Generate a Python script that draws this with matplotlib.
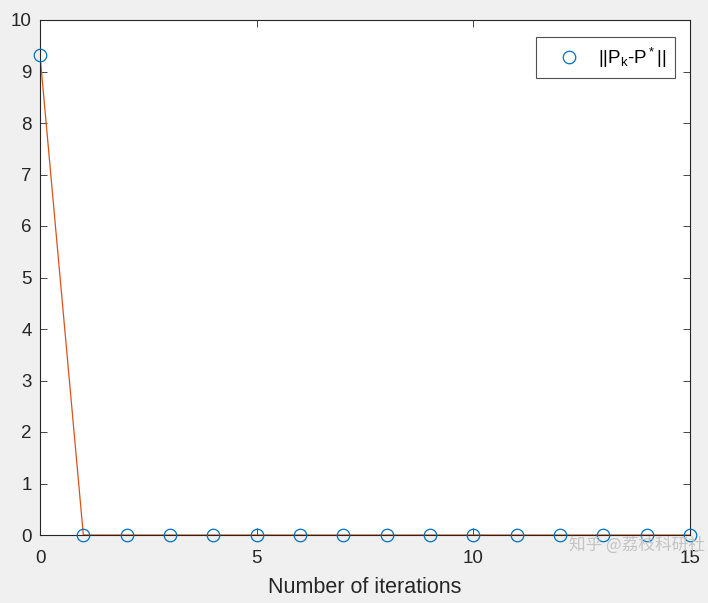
import matplotlib.pyplot as plt
import numpy as np

plt.rcParams['font.family'] = ['Liberation Sans', 'DejaVu Sans']
plt.rcParams['mathtext.fontset'] = 'custom'
plt.rcParams['mathtext.rm'] = 'Liberation Sans'
plt.rcParams['mathtext.it'] = 'Liberation Sans'

iterations = np.arange(0, 16)
error_norm = [9.32, 0, 0, 0, 0, 0, 0, 0, 0, 0, 0, 0, 0, 0, 0, 0]

fig = plt.figure(figsize=(7.08, 6.03), dpi=100, facecolor='#f0f0f0')
ax = fig.add_axes([40 / 708, 1 - 535 / 603, 650 / 708, 515 / 603])
ax.set_facecolor('white')

ax.plot(iterations, error_norm, 'o', markerfacecolor='none', markeredgecolor='#0072bd',
        markersize=9, markeredgewidth=0.9, label=r'$||\mathrm{P}_\mathrm{k}$-$\mathrm{P}^*||$',
        zorder=3, clip_on=False)
ax.plot(iterations, error_norm, '-', color='#d95319', linewidth=0.9, zorder=2)

ax.set_xlim(0, 15)
ax.set_ylim(0, 10)
ax.set_xticks([0, 5, 10, 15])
ax.set_yticks(range(0, 11))
ax.tick_params(direction='in', top=True, right=True, labelsize=13.5, length=5,
               width=0.6, colors='#262626', pad=6)
ax.tick_params(axis='x', pad=11)
for s in ax.spines.values():
    s.set_linewidth(0.8)
    s.set_color('#262626')

ax.set_xlabel('Number of iterations', fontsize=15.5, color='#262626', labelpad=7)

leg = ax.legend(loc='upper right', fontsize=13.5, frameon=True, fancybox=False,
                edgecolor='#262626', borderpad=0.45, handlelength=2.55, handletextpad=0.3,
                borderaxespad=0, bbox_to_anchor=(0.977, 0.967))
leg.get_frame().set_linewidth(0.8)

fig.text(0.996, 0.096, '知乎 @荔枝科研社', ha='right', va='center', fontsize=12,
         color='#c4c4c4', family=['Noto Sans CJK SC', 'DejaVu Sans'])

plt.savefig('out.png', dpi=100, facecolor=fig.get_facecolor())
